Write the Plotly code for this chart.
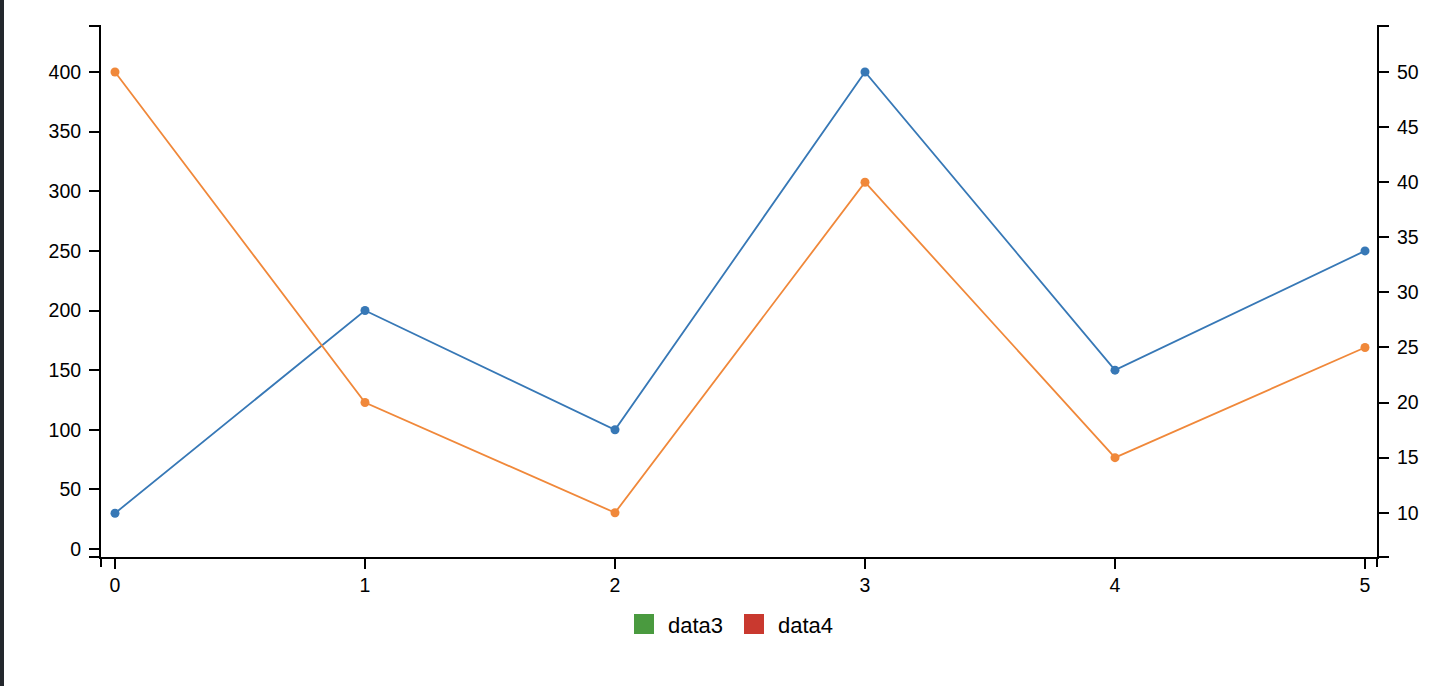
import plotly.graph_objects as go

# values
x_vals = [0, 1, 2, 3, 4, 5]
data1 = [30, 200, 100, 400, 150, 250]   # left axis
data2 = [50, 20, 10, 40, 15, 25]        # right axis
legend_names = ["data3", "data4"]
legend_colors = ["#4a9a3f", "#c9392f"]
left_ticks = [0, 50, 100, 150, 200, 250, 300, 350, 400]
right_ticks = [10, 15, 20, 25, 30, 35, 40, 45, 50]

W, H = 1444, 686
L, R, T, B = 101, 1377, 26, 557   # plot area in pixels
pw, ph = R - L, B - T


def px_x(p):
    return (p - L) / pw


def px_y(p):
    return (B - p) / ph


fig = go.Figure()
fig.add_trace(go.Scatter(
    x=x_vals, y=data1, mode="lines+markers", name="data1",
    line=dict(color="#3778b6", width=1.8),
    marker=dict(size=9, color="#3778b6"),
    showlegend=False,
))
fig.add_trace(go.Scatter(
    x=x_vals, y=data2, mode="lines+markers", name="data2", yaxis="y2",
    line=dict(color="#f0883a", width=1.8),
    marker=dict(size=9, color="#f0883a"),
    showlegend=False,
))

axis_style = dict(
    showline=True, linecolor="black", linewidth=2,
    ticks="outside", ticklen=10, tickwidth=2, tickcolor="black",
    showgrid=False, zeroline=False,
    tickfont=dict(family="Liberation Sans, Arial, sans-serif", size=19.5, color="black"),
)

fig.update_layout(
    width=W, height=H, autosize=False,
    margin=dict(l=L, r=W - R, t=T, b=H - B, pad=0),
    plot_bgcolor="white", paper_bgcolor="white",
    showlegend=False,
    xaxis=dict(range=[-0.056, 5.048], tickvals=x_vals, **axis_style),
    yaxis=dict(range=[-6.7, 438.6], tickvals=left_ticks, ticklabelstandoff=4, **axis_style),
    yaxis2=dict(range=[5.98, 54.18], tickvals=right_ticks, overlaying="y",
                side="right", anchor="x", ticklabelstandoff=4, **axis_style),
)

# C3-style end caps on the axis domains
caps = [
    (89, T, L, T), (89, B, L, B),            # left axis caps
    (R, T, 1389, T), (R, B, 1389, B),        # right axis caps
    (L, B, L, 567), (R, B, R, 567),          # x axis caps
]
for x0, y0, x1, y1 in caps:
    fig.add_shape(type="line", xref="paper", yref="paper",
                  x0=px_x(x0), y0=px_y(y0), x1=px_x(x1), y1=px_y(y1),
                  line=dict(color="black", width=2))

# dark strip on the left edge of the page
fig.add_shape(type="rect", xref="paper", yref="paper",
              x0=px_x(0), x1=px_x(4), y0=px_y(H), y1=px_y(0),
              fillcolor="#23272d", line=dict(width=0))

# legend drawn below the plot
legend_sq = [634, 744]
legend_txt = [666, 776]
for name, color, sx, tx in zip(legend_names, legend_colors, legend_sq, legend_txt):
    fig.add_shape(type="rect", xref="paper", yref="paper",
                  x0=px_x(sx), x1=px_x(sx + 20), y0=px_y(634), y1=px_y(614),
                  fillcolor=color, line=dict(width=0))
    fig.add_annotation(text=name, xref="paper", yref="paper",
                       x=px_x(tx), y=px_y(625), xanchor="left", yanchor="middle",
                       showarrow=False,
                       font=dict(family="Liberation Sans, Arial, sans-serif", size=22, color="black"))

fig.write_html("out.html", config={"displayModeBar": False},
               post_script="document.body.style.margin='0';document.body.style.overflow='hidden';")
